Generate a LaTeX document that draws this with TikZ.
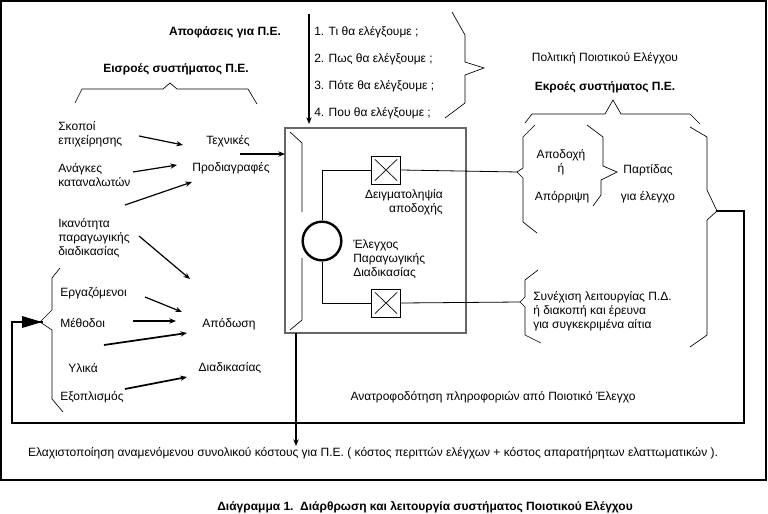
\documentclass[tikz,border=0pt]{standalone}
\usepackage{fontspec}
\setmainfont{Liberation Sans}
\usetikzlibrary{arrows.meta}
\begin{document}
\begin{tikzpicture}[x=0.75pt,y=-0.75pt,
  txt/.style={inner sep=0pt,font=\fontsize{9}{10.5}\selectfont},
  bt/.style={txt,font=\fontsize{9}{10.5}\selectfont\bfseries},
  thin/.style={line width=0.6pt},
  arr/.style={line width=0.9pt,-{Stealth[length=5pt,width=4pt]}},
  thk/.style={line width=2pt},
  br/.style={line width=0.5pt}]
\useasboundingbox (0,0) rectangle (768,514);
\draw[line width=1pt] (1,1) rectangle (766,480);
% main box
\draw[line width=0.8pt,gray!80!black] (285,128) rectangle (466,333);
\draw[br] (290,132) -- (302,143) -- (302,212);
\draw[br] (302,258) -- (302,320) -- (290,330);
\node[draw,circle,line width=1.8pt,minimum size=29pt,inner sep=0pt] (c) at (322,241) {};
\node[draw,thin,minimum width=22pt,minimum height=21pt,inner sep=0pt] (b1) at (386,170) {};
\node[draw,thin,minimum width=22pt,minimum height=21pt,inner sep=0pt] (b2) at (386,303) {};
\draw[br,shorten >=4pt,shorten <=4pt] (b1.north west)--(b1.south east);
\draw[br,shorten >=4pt,shorten <=4pt] (b1.north east)--(b1.south west);
\draw[br,shorten >=4pt,shorten <=4pt] (b2.north west)--(b2.south east);
\draw[br,shorten >=4pt,shorten <=4pt] (b2.north east)--(b2.south west);
\coordinate (t1) at (518,172);
\coordinate (t2) at (520,302);
\draw[thin] (c.north) |- (b1.west);
\draw[thin] (b1.east) -- (t1);
\draw[thin] (c.south) |- (b2.west);
\draw[thin] (b2.east) -- (t2);
\node[txt,anchor=east,align=right] (deig) at (443,202) {Δειγματοληψία\\αποδοχής};
\node[txt,anchor=west,align=left] (eleg) at (353,259) {Έλεγχος\\Παραγωγικής\\Διαδικασίας};
% top
\node[bt] (apof) at (225,32) {Αποφάσεις για Π.Ε.};
\node[bt] (eisr) at (176,69) {Εισροές συστήματος Π.Ε.};
\draw[br] (75,103)--(82,89)--(163,89)--(170,83)--(177,89)--(248,89)--(257,104);
\coordinate (topa) at (309,14);
\coordinate (topb) at (309,124);
\draw[arr] (topa) -- (topb);
\node[txt,anchor=west] (q1) at (314,32) {1. Τι θα ελέγξουμε ;};
\node[txt,anchor=west] (q2) at (314,59) {2. Πως θα ελέγξουμε ;};
\node[txt,anchor=west] (q3) at (314,86) {3. Πότε θα ελέγξουμε ;};
\node[txt,anchor=west] (q4) at (314,113) {4. Που θα ελέγξουμε ;};
\draw[br] (452,12)--(465,35)--(465,62)--(484,68)--(465,75)--(465,103)--(445,118);
% left inputs
\node[txt,anchor=west,align=left] (sk) at (58,134) {Σκοποί\\επιχείρησης};
\node[txt,anchor=west,align=left] (an) at (58,175) {Ανάγκες\\καταναλωτών};
\node[txt,anchor=west,align=left] (ik) at (58,238) {Ικανότητα\\παραγωγικής\\διαδικασίας};
\node[txt] (tex) at (228,141) {Τεχνικές};
\node[txt] (prod) at (231,168) {Προδιαγραφές};
\node[txt,anchor=west] (erg) at (60,293) {Εργαζόμενοι};
\node[txt,anchor=west] (meth) at (60,323) {Μέθοδοι};
\node[txt,anchor=west] (yl) at (68,368) {Υλικά};
\node[txt,anchor=west] (exo) at (60,397) {Εξοπλισμός};
\node[txt] (apod) at (229,324) {Απόδωση};
\node[txt] (diad) at (230,368) {Διαδικασίας};
\draw[arr] (139,136) -- (183,145);
\draw[arr] (133,172) -- (177,165);
\draw[arr] (125,205) -- (192,182);
\draw[arr,line width=2pt] (240,154) -- (285,154);
\draw[arr] (139,236) -- (190,279);
\draw[arr] (145,297) -- (182,312);
\draw[arr,line width=1.5pt] (133,321) -- (176,321);
\draw[arr,line width=1.3pt] (104,345) -- (187,333);
\draw[arr,line width=1.3pt] (125,389) -- (187,377);
\draw[br] (60,268)--(52,278)--(52,310)--(40,322)--(52,330)--(52,399)--(63,412);
% right outputs
\node[txt] (pol) at (605,58) {Πολιτική Ποιοτικού Ελέγχου};
\node[bt] (ekr) at (605,87) {Εκροές συστήματος Π.Ε.};
\draw[br] (525,123)--(532,114)--(605,114)--(613,100)--(621,114)--(690,114)--(700,124);
\draw[br] (535,125)--(523,137)--(523,168)--(517,172)--(523,178)--(523,222)--(537,233);
\node[txt] (apo) at (561,155) {Αποδοχή};
\node[txt] (i) at (561,169) {ή};
\node[txt] (apor) at (562,197) {Απόρριψη};
\draw[br] (587,125)--(603,137)--(603,166)--(617,172)--(601,180)--(601,195)--(593,206);
\node[txt] (part) at (648,170) {Παρτίδας};
\node[txt] (gia) at (648,197) {για έλεγχο};
\draw[br] (690,127)--(707,137)--(707,190)--(717,211)--(707,220)--(707,335)--(690,347);
\draw[br] (538,270)--(525,280)--(525,297)--(520,302)--(525,307)--(525,335)--(541,343);
\node[txt,anchor=west,align=left] (syn) at (533,311) {Συνέχιση λειτουργίας Π.Δ.\\ή διακοπή και έρευνα\\για συγκεκριμένα αίτια};
% feedback
\coordinate (fr) at (717,211);
\coordinate (fa) at (744,211);
\coordinate (fb) at (744,423);
\coordinate (fc) at (12,423);
\coordinate (fd) at (12,322);
\coordinate (fe) at (42,322);
\draw[thk,line cap=rect] (fr) -- (fa) -- (fb) -- (fc) -- (fd) -- (fe);
\fill (22,316) -- (42,322) -- (22,328) -- cycle;
\node[txt] (anat) at (493,397) {Ανατροφοδότηση πληροφοριών από Ποιοτικό Έλεγχο};
\coordinate (da) at (296,333);
\coordinate (db) at (296,446);
\draw[arr] (da) -- (db);
\node[txt] (elax) at (373,453) {Ελαχιστοποίηση αναμενόμενου συνολικού κόστους για Π.Ε. ( κόστος περιττών ελέγχων + κόστος απαρατήρητων ελαττωματικών ).};
\node[bt] (cap) at (425,507) {Διάγραμμα 1.\ \ Διάρθρωση και λειτουργία συστήματος Ποιοτικού Ελέγχου};
\end{tikzpicture}
\end{document}
